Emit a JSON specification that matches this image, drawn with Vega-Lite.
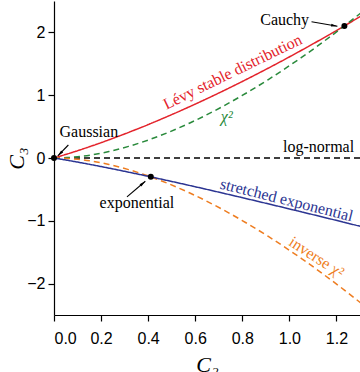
{
  "$schema": "https://vega.github.io/schema/vega-lite/v6.json",
  "width": 306,
  "height": 314,
  "autosize": {"type": "none"},
  "padding": {"left": 54, "top": 1, "right": 0, "bottom": 57},
  "background": "white",
  "config": {
    "view": {"stroke": null},
    "axis": {
      "grid": false,
      "labelFont": "Liberation Sans",
      "labelFontSize": 16,
      "labelColor": "#000000",
      "domainColor": "#000000",
      "domainWidth": 1.2,
      "tickColor": "#000000",
      "tickWidth": 1.2,
      "titleFont": "Liberation Serif",
      "titleFontStyle": "italic",
      "titleFontWeight": "normal",
      "titleFontSize": 22,
      "titleColor": "#000000"
    },
    "text": {"font": "Liberation Serif", "fontSize": 16}
  },
  "datasets": {
    "curves": [
      {"series": "lognormal", "C2": 0, "C3": 0},
      {"series": "lognormal", "C2": 1.3, "C3": 0},
      {"series": "levy", "C2": 0, "C3": 0},
      {"series": "levy", "C2": 0.086359, "C3": 0.09947},
      {"series": "levy", "C2": 0.180943, "C3": 0.218774},
      {"series": "levy", "C2": 0.283751, "C3": 0.359716},
      {"series": "levy", "C2": 0.394784, "C3": 0.524097},
      {"series": "levy", "C2": 0.514042, "C3": 0.713722},
      {"series": "levy", "C2": 0.641524, "C3": 0.930392},
      {"series": "levy", "C2": 0.777231, "C3": 1.175912},
      {"series": "levy", "C2": 0.921163, "C3": 1.452085},
      {"series": "levy", "C2": 1.073319, "C3": 1.760713},
      {"series": "levy", "C2": 1.233701, "C3": 2.1036},
      {"series": "levy", "C2": 1.333877, "C3": 2.326527},
      {"series": "levy", "C2": 1.437014, "C3": 2.562824},
      {"series": "chi2", "C2": 0, "C3": 0},
      {"series": "chi2", "C2": 0.012818, "C3": 0.000329},
      {"series": "chi2", "C2": 0.026292, "C3": 0.001381},
      {"series": "chi2", "C2": 0.055331, "C3": 0.006099},
      {"series": "chi2", "C2": 0.098734, "C3": 0.019264},
      {"series": "chi2", "C2": 0.161234, "C3": 0.050514},
      {"series": "chi2", "C2": 0.233701, "C3": 0.1036},
      {"series": "chi2", "C2": 0.316844, "C3": 0.184755},
      {"series": "chi2", "C2": 0.411234, "C3": 0.300514},
      {"series": "chi2", "C2": 0.480635, "C3": 0.400225},
      {"series": "chi2", "C2": 0.574868, "C3": 0.553765},
      {"series": "chi2", "C2": 0.708512, "C3": 0.804374},
      {"series": "chi2", "C2": 0.797864, "C3": 0.991716},
      {"series": "chi2", "C2": 0.909052, "C3": 1.245354},
      {"series": "chi2", "C2": 1.05021, "C3": 1.597938},
      {"series": "chi2", "C2": 1.233701, "C3": 2.103604},
      {"series": "chi2", "C2": 1.371813, "C3": 2.51703},
      {"series": "invchi2", "C2": 0, "C3": 0},
      {"series": "invchi2", "C2": 0.012818, "C3": -0.000329},
      {"series": "invchi2", "C2": 0.026292, "C3": -0.001381},
      {"series": "invchi2", "C2": 0.055331, "C3": -0.006099},
      {"series": "invchi2", "C2": 0.098734, "C3": -0.019264},
      {"series": "invchi2", "C2": 0.161234, "C3": -0.050514},
      {"series": "invchi2", "C2": 0.233701, "C3": -0.1036},
      {"series": "invchi2", "C2": 0.316844, "C3": -0.184755},
      {"series": "invchi2", "C2": 0.411234, "C3": -0.300514},
      {"series": "invchi2", "C2": 0.480635, "C3": -0.400225},
      {"series": "invchi2", "C2": 0.574868, "C3": -0.553765},
      {"series": "invchi2", "C2": 0.708512, "C3": -0.804374},
      {"series": "invchi2", "C2": 0.797864, "C3": -0.991716},
      {"series": "invchi2", "C2": 0.909052, "C3": -1.245354},
      {"series": "invchi2", "C2": 1.05021, "C3": -1.597938},
      {"series": "invchi2", "C2": 1.233701, "C3": -2.103604},
      {"series": "invchi2", "C2": 1.371813, "C3": -2.51703},
      {"series": "stretched", "C2": 0, "C3": 0},
      {"series": "stretched", "C2": 0.075334, "C3": -0.048368},
      {"series": "stretched", "C2": 0.154983, "C3": -0.103598},
      {"series": "stretched", "C2": 0.237962, "C3": -0.164615},
      {"series": "stretched", "C2": 0.323556, "C3": -0.230505},
      {"series": "stretched", "C2": 0.411233, "C3": -0.30051},
      {"series": "stretched", "C2": 0.59132, "C3": -0.450442},
      {"series": "stretched", "C2": 0.869604, "C3": -0.693586},
      {"series": "stretched", "C2": 1.058742, "C3": -0.86428},
      {"series": "stretched", "C2": 1.249878, "C3": -1.039958},
      {"series": "stretched", "C2": 1.346035, "C3": -1.129308}
    ],
    "points": [
      {"name": "Gaussian", "C2": 0, "C3": 0},
      {"name": "Cauchy", "C2": 1.233701, "C3": 2.1036},
      {"name": "exponential", "C2": 0.411233, "C3": -0.30051}
    ],
    "arrows": [
      {"name": "Gaussian", "C2": 0.061, "C3": 0.207, "C2end": 0.016, "C3end": 0.032},
      {"name": "Cauchy", "C2": 1.094, "C3": 2.169, "C2end": 1.204, "C3end": 2.097},
      {"name": "exponential", "C2": 0.31, "C3": -0.62, "C2end": 0.388, "C3end": -0.37}
    ],
    "labels": [
      {"label": "Gaussian", "C2": 0.148, "C3": 0.41, "group": "black"},
      {"label": "Cauchy", "C2": 0.98, "C3": 2.2, "group": "black"},
      {"label": "exponential", "C2": 0.352, "C3": -0.72, "group": "black"},
      {"label": "log-normal", "C2": 1.124, "C3": 0.175, "group": "black"},
      {"label": "Lévy stable distribution", "C2": 0.759, "C3": 1.37, "group": "levy"},
      {"label": "χ²", "C2": 0.734, "C3": 0.654, "group": "chi2"},
      {"label": "stretched exponential", "C2": 0.988, "C3": -0.67, "group": "stretched"},
      {"label": "inverse χ²", "C2": 1.115, "C3": -1.58, "group": "invchi2"}
    ]
  },
  "layer": [
    {
      "data": {"name": "curves"},
      "mark": {"type": "line", "strokeWidth": 1.5, "clip": true, "interpolate": "monotone"},
      "encoding": {
        "x": {
          "field": "C2", "type": "quantitative",
          "scale": {"domain": [0, 1.3], "nice": false, "zero": false},
          "axis": {
            "title": "C₂",
            "values": [0, 0.1, 0.2, 0.3, 0.4, 0.5, 0.6, 0.7, 0.8, 0.9, 1.0, 1.1, 1.2],
            "labelExpr": "round(datum.value*10) % 2 == 0 ? format(datum.value, '.1f') : ''",
            "tickSize": {"condition": {"test": "round(datum.value*10) % 2 == 0", "value": 6}, "value": 3.5},
            "labelPadding": 9,
            "titlePadding": 8
          }
        },
        "y": {
          "field": "C3", "type": "quantitative",
          "scale": {"domain": [-2.5, 2.5], "nice": false, "zero": false},
          "axis": {
            "title": "C₃",
            "values": [-2, -1.5, -1, -0.5, 0, 0.5, 1, 1.5, 2],
            "labelExpr": "round(datum.value*2) % 2 == 0 ? format(datum.value, 'd') : ''",
            "tickSize": {"condition": {"test": "round(datum.value*2) % 2 == 0", "value": 6}, "value": 3.5},
            "labelPadding": 3,
            "titlePadding": -2
          }
        },
        "color": {
          "field": "series", "type": "nominal", "legend": null,
          "scale": {"domain": ["levy", "chi2", "invchi2", "stretched", "lognormal"], "range": ["#e3232b", "#2a8a3c", "#ee7d21", "#2c3592", "#000000"]}
        },
        "strokeDash": {
          "field": "series", "type": "nominal", "legend": null,
          "scale": {"domain": ["levy", "chi2", "invchi2", "stretched", "lognormal"], "range": [[1, 0], [6, 4], [6, 4], [1, 0], [6, 4]]}
        }
      }
    },
    {
      "mark": {"type": "rule", "strokeWidth": 3.5, "color": "#000000"},
      "encoding": {"y": {"datum": 2.5}}
    },
    {
      "data": {"name": "arrows"},
      "mark": {"type": "rule", "strokeWidth": 1.1, "color": "#000000"},
      "encoding": {
        "x": {"field": "C2", "type": "quantitative"},
        "y": {"field": "C3", "type": "quantitative"},
        "x2": {"field": "C2end"},
        "y2": {"field": "C3end"}
      }
    },
    {
      "data": {"name": "arrows"},
      "transform": [{"filter": {"field": "name", "equal": "Gaussian"}}],
      "mark": {"type": "point", "shape": "M0,0L-0.45,2L0.45,2Z", "filled": true, "color": "#000000", "size": 40, "opacity": 1, "angle": 224},
      "encoding": {
        "x": {"field": "C2end", "type": "quantitative"},
        "y": {"field": "C3end", "type": "quantitative"}
      }
    },
    {
      "data": {"name": "arrows"},
      "transform": [{"filter": {"field": "name", "equal": "Cauchy"}}],
      "mark": {"type": "point", "shape": "M0,0L-0.45,2L0.45,2Z", "filled": true, "color": "#000000", "size": 40, "opacity": 1, "angle": 100},
      "encoding": {
        "x": {"field": "C2end", "type": "quantitative"},
        "y": {"field": "C3end", "type": "quantitative"}
      }
    },
    {
      "data": {"name": "arrows"},
      "transform": [{"filter": {"field": "name", "equal": "exponential"}}],
      "mark": {"type": "point", "shape": "M0,0L-0.45,2L0.45,2Z", "filled": true, "color": "#000000", "size": 40, "opacity": 1, "angle": 50},
      "encoding": {
        "x": {"field": "C2end", "type": "quantitative"},
        "y": {"field": "C3end", "type": "quantitative"}
      }
    },
    {
      "data": {"name": "points"},
      "mark": {"type": "point", "shape": "circle", "filled": true, "color": "#000000", "size": 36, "opacity": 1},
      "encoding": {
        "x": {"field": "C2", "type": "quantitative"},
        "y": {"field": "C3", "type": "quantitative"}
      }
    },
    {
      "data": {"name": "labels"},
      "transform": [{"filter": {"field": "group", "equal": "black"}}],
      "mark": {"type": "text", "align": "center", "baseline": "middle", "color": "#000000"},
      "encoding": {
        "x": {"field": "C2", "type": "quantitative"},
        "y": {"field": "C3", "type": "quantitative"},
        "text": {"field": "label"}
      }
    },
    {
      "data": {"name": "labels"},
      "transform": [{"filter": {"field": "group", "equal": "levy"}}],
      "mark": {"type": "text", "align": "center", "baseline": "middle", "color": "#e3232b", "angle": -26},
      "encoding": {
        "x": {"field": "C2", "type": "quantitative"},
        "y": {"field": "C3", "type": "quantitative"},
        "text": {"field": "label"}
      }
    },
    {
      "data": {"name": "labels"},
      "transform": [{"filter": {"field": "group", "equal": "chi2"}}],
      "mark": {"type": "text", "align": "center", "baseline": "middle", "color": "#2a8a3c", "fontStyle": "italic"},
      "encoding": {
        "x": {"field": "C2", "type": "quantitative"},
        "y": {"field": "C3", "type": "quantitative"},
        "text": {"field": "label"}
      }
    },
    {
      "data": {"name": "labels"},
      "transform": [{"filter": {"field": "group", "equal": "stretched"}}],
      "mark": {"type": "text", "align": "center", "baseline": "middle", "color": "#2c3592", "angle": 14},
      "encoding": {
        "x": {"field": "C2", "type": "quantitative"},
        "y": {"field": "C3", "type": "quantitative"},
        "text": {"field": "label"}
      }
    },
    {
      "data": {"name": "labels"},
      "transform": [{"filter": {"field": "group", "equal": "invchi2"}}],
      "mark": {"type": "text", "align": "center", "baseline": "middle", "color": "#ee7d21", "angle": 33},
      "encoding": {
        "x": {"field": "C2", "type": "quantitative"},
        "y": {"field": "C3", "type": "quantitative"},
        "text": {"field": "label"}
      }
    }
  ]
}
